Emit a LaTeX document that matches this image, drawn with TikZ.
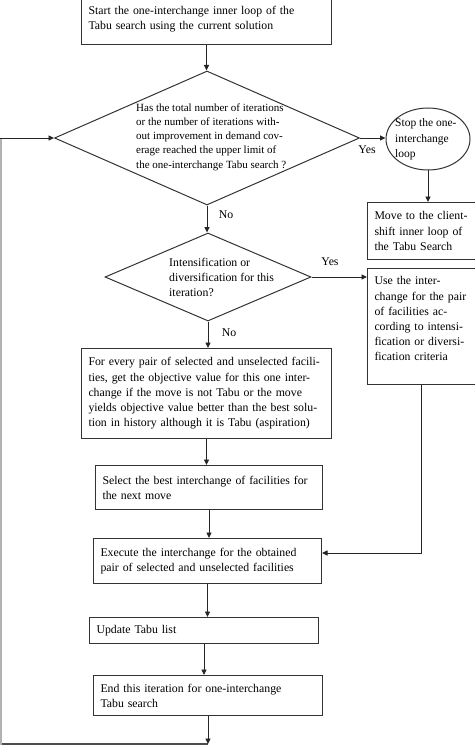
\documentclass[tikz,border=0pt]{standalone}
\usepackage{fontspec}
\setmainfont{Liberation Serif}
\usetikzlibrary{shapes.geometric,arrows.meta}
\begin{document}
\begin{tikzpicture}[x=1pt,y=-1pt,
  every node/.style={font=\fontsize{11.8}{15.2}\selectfont},
  box/.style={draw=black!80, line width=1pt, rectangle, anchor=north west, inner xsep=7pt, inner ysep=0pt, align=left},
  dia/.style={draw=black!80, line width=1pt, diamond, inner sep=0pt},
  txt/.style={inner sep=0pt, align=left, anchor=west},
  arr/.style={draw=black!85, line width=0.9pt, -{Triangle[length=5.5pt,width=5pt]}},
  lbl/.style={inner sep=0pt}]
\useasboundingbox (0,0) rectangle (474,746);

% boxes
\node[box, minimum width=250pt, minimum height=50pt, text width=236pt] (start) at (81,-6)
  {Start the one-interchange inner loop of the\\Tabu search using the current solution};

\node[dia, minimum width=305pt, minimum height=134pt] (q1) at (207,138) {};
\node[txt, font=\fontsize{11}{14.3}\selectfont] (q1t) at (136,137)
  {Has the total number of iterations\\or the number of  iterations with-\\out  improvement in demand cov-\\erage reached the upper limit of\\the one-interchange Tabu search ?};

\node[draw=black!80, line width=1pt, ellipse, minimum width=84pt, minimum height=62pt, inner sep=0pt] (stop) at (428,139) {};
\node[txt, font=\fontsize{11.5}{15.5}\selectfont] (stopt) at (395,139.5) {Stop the one-\\interchange\\loop};

\node[box, minimum width=113pt, minimum height=57pt, text width=99pt] (move) at (367,202)
  {Move to the client-\\shift inner loop of\\the Tabu Search};
\node[box, minimum width=113pt, minimum height=116pt, text width=99pt] (use) at (367,268)
  {Use the inter-\\change for the pair\\of facilities ac-\\cording to intensi-\\fication or diversi-\\fication criteria\\\mbox{}};

\node[dia, minimum width=206pt, minimum height=88pt] (q2) at (208,277) {};
\node[txt] (q2t) at (169,277.5) {Intensification or\\diversification for this\\iteration?};

\node[box, minimum width=250pt, minimum height=90pt, text width=236pt] (eval) at (81,348)
  {For every pair of selected and unselected facili-\\ties,  get the objective value for this one inter-\\change if the move is not Tabu or the  move\\yields objective value better than the best solu-\\tion in history although it is Tabu (aspiration)};
\node[box, minimum width=227pt, minimum height=44pt, text width=213pt] (sel) at (95,465)
  {Select the best  interchange of facilities for\\the next move};
\node[box, minimum width=228pt, minimum height=45pt, text width=214pt] (exec) at (93,538)
  {Execute the interchange for the obtained\\pair of selected and unselected facilities};
\node[box, minimum width=229pt, minimum height=26pt, text width=215pt] (upd) at (89,617)
  {Update Tabu list};
\node[box, minimum width=229pt, minimum height=40pt, text width=215pt] (endit) at (93,675)
  {End this iteration for one-interchange\\Tabu search};

% connectors
\draw[arr] (start.south) -- (start.south |- q1.north);
\draw[arr] (q1.east) -- (q1.east -| stop.west);
\node[lbl] (yes1) at (367,150) {Yes};
\draw[arr] (stop.south) -- (stop.south |- move.north);
\draw[arr] (q1.south) -- (q1.south |- q2.north);
\node[lbl] (no1) at (226,215) {No};
\draw[arr] (q2.east) -- (q2.east -| use.west);
\node[lbl] (yes2) at (330,262) {Yes};
\draw[arr] (q2.south) -- (q2.south |- eval.north);
\node[lbl] (no2) at (229,333) {No};
\draw[arr] (eval.south) -- (eval.south |- sel.north);
\draw[arr] (sel.south) -- (sel.south |- exec.north);
\coordinate (c1) at (421,553);
\draw[arr] (use.south -| c1) -- (c1) -- (c1 -| exec.east);
\draw[arr] (exec.south) -- (exec.south |- upd.north);
\draw[arr] (upd.south) -- (upd.south |- endit.north);
\coordinate (c2) at (207,744);
\coordinate (bl) at (0,744);
\coordinate (lb) at (1,745);
\coordinate (lt) at (1,138);
\coordinate (l0) at (0,138);
\draw[gray!60!black, line width=2.5pt] (endit.south |- c2) -- (bl);
\draw[gray!60, line width=2pt] (lb) -- (lt);
\draw[arr] (endit.south) -- (endit.south |- c2);
\draw[arr] (l0) -- (q1.west);
\end{tikzpicture}
\end{document}
